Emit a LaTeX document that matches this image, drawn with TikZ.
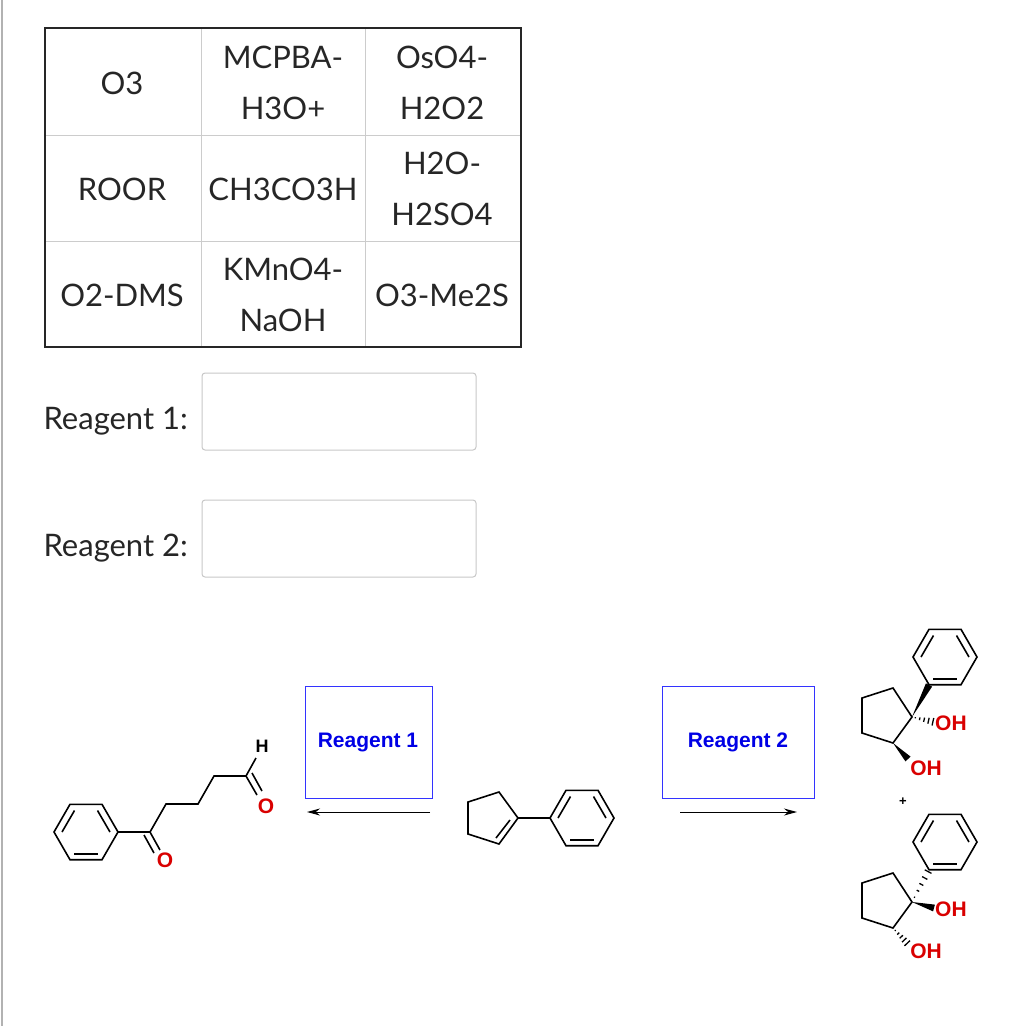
\documentclass[tikz,border=0pt]{standalone}
\usepackage{fontspec}
\setmainfont{Lato}
\newfontfamily\arialf{Liberation Sans}
\usetikzlibrary{calc,arrows.meta}
\tikzset{
 cell/.style={font=\fontsize{31}{51}\selectfont, align=center, text=black!85},
 rbox/.style={draw=black!22, rounded corners=3pt, line width=1pt},
 bond/.style={line width=1.6pt},
 rgt/.style={text=blue!90!black, font=\arialf\bfseries\fontsize{21}{24}\selectfont},
 oxy/.style={text=red!85!black, font=\arialf\bfseries\fontsize{21}{22}\selectfont, inner sep=1pt},
 hh/.style={text=black, font=\arialf\bfseries\fontsize{18}{20}\selectfont, inner sep=1pt},
}
\newcommand{\benz}[2]{% center, radius 32 flat top
 \draw[bond] ($(#1)+(32,0)$) -- ($(#1)+(16,27.7)$) -- ($(#1)+(-16,27.7)$) -- ($(#1)+(-32,0)$) -- ($(#1)+(-16,-27.7)$) -- ($(#1)+(16,-27.7)$) -- cycle;
 \draw[bond] ($(#1)+(11.5,-21.5)$) -- ($(#1)+(24,0)$);
 \draw[bond] ($(#1)+(-11.5,-21.5)$) -- ($(#1)+(-24,0)$);
 \draw[bond] ($(#1)+(-12,22)$) -- ($(#1)+(12,22)$);}
\newcommand{\wedgeb}[2]{\fill ($(#1)$) -- ($(#2)!3.5pt!90:(#1)$) -- ($(#2)!3.5pt!-90:(#1)$) -- cycle;}
\newcommand{\hashb}[2]{\foreach \t in {0.15,0.35,0.55,0.75,0.95}{\draw[line width=1.3pt] ($(#1)!\t!(#2)!{\t*4pt}!90:(#2)$) -- ($(#1)!\t!(#2)!{\t*4pt}!-90:(#2)$);}}
\begin{document}
\begin{tikzpicture}[x=1pt,y=-1pt]
\useasboundingbox (0,0) rectangle (1026,1026);
\draw[black!30, line width=1.5pt] (2,0) -- (2,1026);
% table
\draw[black!20, line width=1pt] (45,135) -- (521,135) (45,241) -- (521,241) (201,28) -- (201,347) (365,28) -- (365,347);
\draw[black!85, line width=1.2pt] (45,28) rectangle (521,347);
\node[cell] (c11) at (122,83) {O3};
\node[cell] (c12) at (283,83) {MCPBA-\\H3O+};
\node[cell] (c13) at (442,83) {OsO4-\\H2O2};
\node[cell] (c21) at (122,189) {ROOR};
\node[cell] (c22) at (283,189) {CH3CO3H};
\node[cell] (c23) at (442,189) {H2O-\\H2SO4};
\node[cell] (c31) at (122,295) {O2-DMS};
\node[cell] (c32) at (283,295) {KMnO4-\\NaOH};
\node[cell] (c33) at (442,295) {O3-Me2S};
% reagent inputs
\node[cell, anchor=west] (r1) at (40,421) {Reagent 1:};
\draw[rbox] (202,373) rectangle (476,450);
\node[cell, anchor=west] (r2) at (40,548) {Reagent 2:};
\draw[rbox] (202,500) rectangle (476,577);
% boxes and arrows
\draw[blue!80, line width=1pt] (305,686) rectangle (432,798);
\node[rgt] (t1) at (368,742) {Reagent 1};
\draw[blue!80, line width=1pt] (662,686) rectangle (814,798);
\node[rgt] (t2) at (738,742) {Reagent 2};
\coordinate (a1s) at (430,812); \coordinate (a1e) at (307,812);
\draw[line width=1pt, -{Stealth[length=13pt,width=7pt]}] (a1s) -- (a1e);
\coordinate (a2s) at (680,812); \coordinate (a2e) at (797,812);
\draw[line width=1pt, -{Stealth[length=13pt,width=7pt]}] (a2s) -- (a2e);
% left molecule
\benz{86,832}{}
\draw[bond] (118,832) -- (150,832) -- (166,804) -- (198,804) -- (214,776) -- (246,776) -- (256,758);
\node[hh] (H) at (262,746) {H};
\draw[bond] (150,832) -- (160,850); \draw[bond] (144,835) -- (154,853);
\node[oxy] (O1) at (165,860) {O};
\draw[bond] (246,776) -- (257,795); \draw[bond] (252,773) -- (262,791);
\node[oxy] (O2) at (266,806) {O};
% middle molecule
\draw[bond] (518,818) -- (499,792) -- (468,802) -- (468,834) -- (499,844) -- cycle;
\draw[bond] (510,820) -- (496,838);
\draw[bond] (518,818) -- (550,818);
\benz{582,818}{}
% product 1
\benz{945,657}{}
\draw[bond] (912,717) -- (893,688) -- (862,698) -- (862,733) -- (893,743) -- cycle;
\wedgeb{912,717}{929,685}
\hashb{912,717}{934,722}
\node[oxy, anchor=west] (oh1) at (934,723) {OH};
\wedgeb{893,743}{908,759}
\node[oxy] (oh2) at (926,768) {OH};
\node[font=\arialf\bfseries\fontsize{13}{13}\selectfont] (plus) at (903,802) {+};
% product 2
\benz{945,842}{}
\draw[bond] (912,902) -- (893,873) -- (862,883) -- (862,918) -- (893,928) -- cycle;
\hashb{912,902}{929,870}
\wedgeb{912,902}{934,908}
\node[oxy, anchor=west] (oh3) at (934,909) {OH};
\hashb{893,928}{908,944}
\node[oxy] (oh4) at (926,951) {OH};
\end{tikzpicture}
\end{document}
